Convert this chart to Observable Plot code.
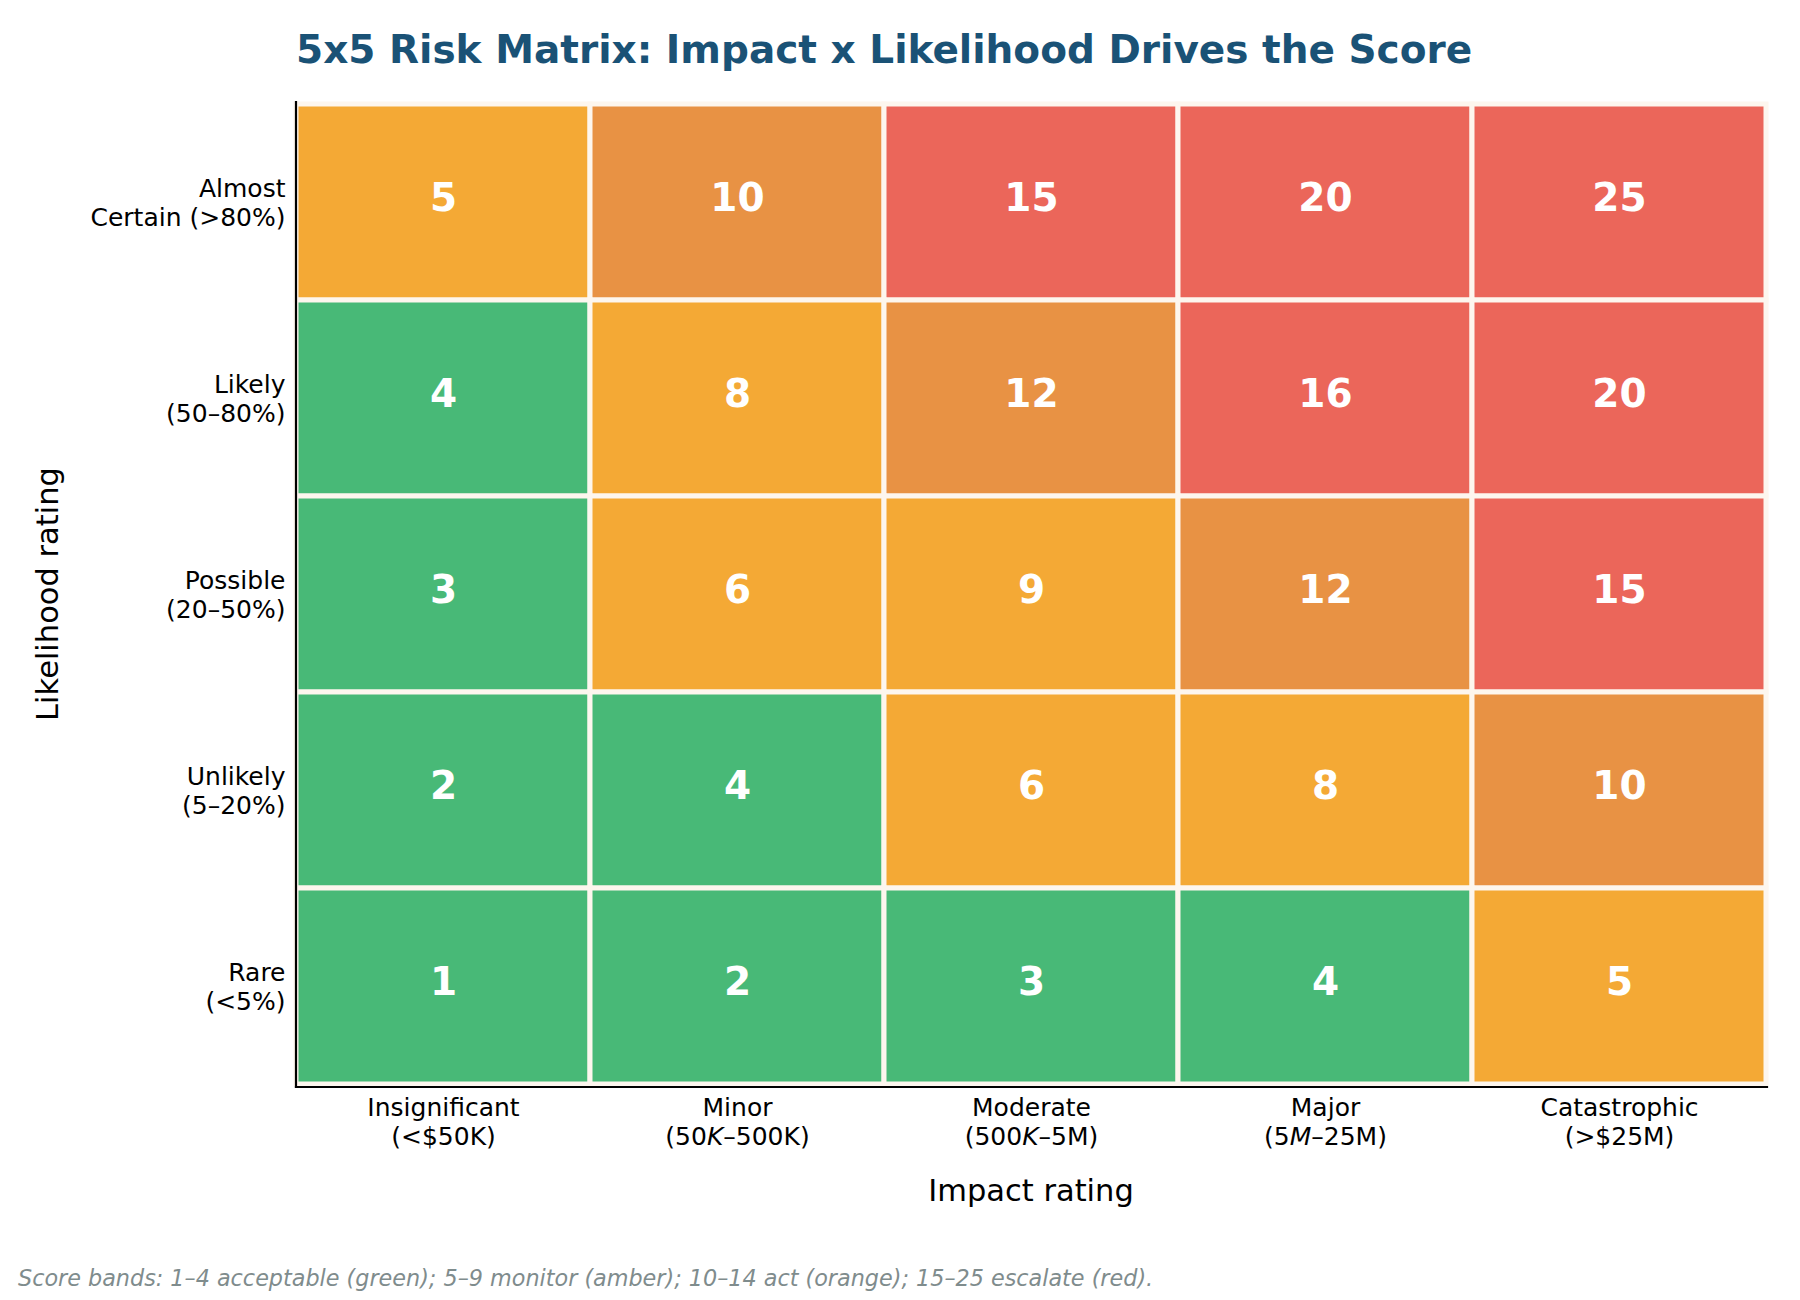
<!DOCTYPE html>
<html>
<head>
<meta charset="utf-8">
<script src="https://cdn.jsdelivr.net/npm/d3@7"></script>
<script src="https://cdn.jsdelivr.net/npm/@observablehq/plot@0.6"></script>
<style>
  html, body { margin: 0; padding: 0; background: #ffffff; }
  #page { position: relative; width: 1800px; height: 1300px; font-family: "DejaVu Sans", sans-serif; overflow: hidden; }
  #chart { position: absolute; left: 0; top: 0; }
  .title { position: absolute; left: 296px; top: 30px; font-size: 39px; font-weight: bold; color: #1a5276; line-height: 1; white-space: nowrap; }
  .xlabel { position: absolute; left: 1031px; top: 1190px; transform: translate(-50%, -50%); font-size: 30.5px; color: #000; white-space: nowrap; }
  .ylabel { position: absolute; left: 47px; top: 594px; transform: translate(-50%, -50%) rotate(-90deg); font-size: 30.5px; color: #000; white-space: nowrap; }
  .caption { position: absolute; left: 18px; top: 1278px; transform: translateY(-50%); font-size: 22.3px; font-style: italic; color: #7f8c8d; white-space: nowrap; }
</style>
</head>
<body>
<div id="page">
  <div id="chart"></div>
  <div class="title">5x5 Risk Matrix: Impact x Likelihood Drives the Score</div>
  <div class="xlabel">Impact rating</div>
  <div class="ylabel">Likelihood rating</div>
  <div class="caption">Score bands: 1–4 acceptable (green); 5–9 monitor (amber); 10–14 act (orange); 15–25 escalate (red).</div>
</div>
<script>
// Impact categories (columns, left to right) and their loss ranges
const impacts = ["Insignificant", "Minor", "Moderate", "Major", "Catastrophic"];
const impactRanges = ["(<$50K)", "(50K–500K)", "(500K–5M)", "(5M–25M)", "(>$25M)"];

// Likelihood categories (rows, top to bottom) and their probability ranges
const likelihoods = ["Almost Certain", "Likely", "Possible", "Unlikely", "Rare"];
const likelihoodLabels = ["Almost\nCertain (>80%)", "Likely\n(50–80%)", "Possible\n(20–50%)", "Unlikely\n(5–20%)", "Rare\n(<5%)"];

// Risk scores, one row per likelihood (same order as above), one value per impact
const scoresAlmostCertain = [5, 10, 15, 20, 25];
const scoresLikely        = [4, 8, 12, 16, 20];
const scoresPossible      = [3, 6, 9, 12, 15];
const scoresUnlikely      = [2, 4, 6, 8, 10];
const scoresRare          = [1, 2, 3, 4, 5];

// Score band thresholds and colours
const bandThresholds = [5, 10, 15];
const bandColors = ["#48b977", "#f4a935", "#e89244", "#eb665a"];

const scoreRows = [scoresAlmostCertain, scoresLikely, scoresPossible, scoresUnlikely, scoresRare];
const cells = [];
likelihoods.forEach((lk, i) => {
  impacts.forEach((im, j) => {
    cells.push({impact: im, likelihood: lk, score: scoreRows[i][j]});
  });
});

const impactTick = new Map(impacts.map((d, i) => [d, d + "\n" + impactRanges[i]]));
const likelihoodTick = new Map(likelihoods.map((d, i) => [d, likelihoodLabels[i]]));

const chart = Plot.plot({
  width: 1800,
  height: 1300,
  marginLeft: 296,
  marginRight: 34,
  marginTop: 102,
  marginBottom: 214,
  style: {fontFamily: "DejaVu Sans, sans-serif", background: "transparent"},
  x: {domain: impacts, padding: 0, axis: null},
  y: {domain: likelihoods, padding: 0, axis: null},
  color: {type: "threshold", domain: bandThresholds, range: bandColors},
  marks: [
    Plot.cell(cells, {x: "impact", y: "likelihood", fill: "score", stroke: "#fdf6ee", strokeWidth: 5}),
    Plot.text(cells, {x: "impact", y: "likelihood", text: "score", fill: "white", fontSize: 39, fontWeight: "bold", dy: -4}),
    Plot.axisX({
      anchor: "bottom", label: null, tickSize: 0, tickPadding: 8.5,
      fontSize: 25, lineHeight: 1.16, fill: "black",
      tickFormat: d => impactTick.get(d)
    }),
    Plot.axisY({
      anchor: "left", label: null, tickSize: 0, tickPadding: 11,
      fontSize: 25, lineHeight: 1.16, fill: "black",
      tickFormat: d => likelihoodTick.get(d)
    })
  ]
});

document.getElementById("chart").append(chart);

// Left and bottom spines along the edges of the plot area
const [x0, x1] = chart.scale("x").range;
const [y0, y1] = chart.scale("y").range;
const svg = d3.select(chart);
const spines = svg.append("g").attr("stroke", "black").attr("stroke-width", 2.2).attr("stroke-linecap", "square");
spines.append("line").attr("x1", x0).attr("x2", x0).attr("y1", Math.min(y0, y1)).attr("y2", Math.max(y0, y1) + 1);
spines.append("line").attr("x1", x0).attr("x2", x1 + 1).attr("y1", Math.max(y0, y1) + 1).attr("y2", Math.max(y0, y1) + 1);

// Italic unit letters in the middle impact ranges
const italicize = {"(50K–500K)": "(50<tspan font-style=\"italic\">K</tspan>–500K)",
                   "(500K–5M)": "(500<tspan font-style=\"italic\">K</tspan>–5M)",
                   "(5M–25M)": "(5<tspan font-style=\"italic\">M</tspan>–25M)"};
svg.selectAll("tspan").each(function() {
  const t = this.textContent;
  if (italicize[t]) this.innerHTML = italicize[t];
});
</script>
</body>
</html>
